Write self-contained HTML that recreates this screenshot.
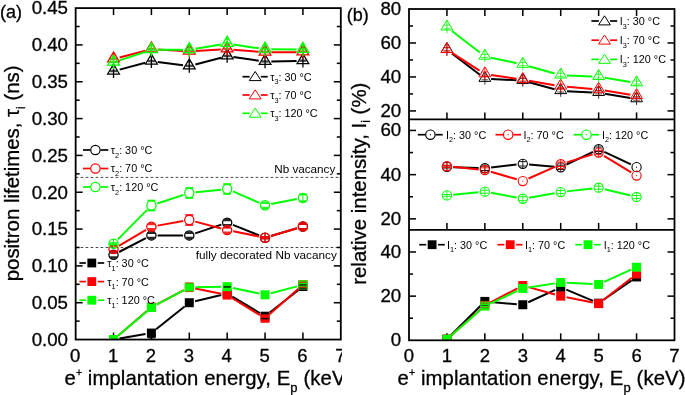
<!DOCTYPE html><html><head><meta charset="utf-8"><style>html,body{margin:0;padding:0;background:#fff;width:685px;height:395px;overflow:hidden;position:relative}text{font-family:"Liberation Sans", sans-serif;fill:#000;stroke:#000;stroke-width:0.3px}text.s{stroke-width:0}</style></head><body><svg width="685" height="395" viewBox="0 0 685 395" style="position:absolute;left:0;top:0;display:block"><rect x="0" y="0" width="685" height="395" fill="#fff"/><defs><clipPath id="cl"><rect x="75.65" y="8.1" width="265.15" height="331.45"/></clipPath><clipPath id="cr"><rect x="409" y="9" width="265.5" height="331.3"/></clipPath></defs><line x1="75.65" y1="177.4" x2="340.8" y2="177.4" stroke="#444" stroke-width="1" stroke-dasharray="2.6,2.4"/><line x1="75.65" y1="247.5" x2="340.8" y2="247.5" stroke="#444" stroke-width="1" stroke-dasharray="2.6,2.4"/><line x1="113.53" y1="339.55" x2="113.53" y2="332.55" stroke="#000" stroke-width="1.53" /><line x1="113.53" y1="8.1" x2="113.53" y2="15.1" stroke="#000" stroke-width="1.53" /><line x1="151.41" y1="339.55" x2="151.41" y2="332.55" stroke="#000" stroke-width="1.53" /><line x1="151.41" y1="8.1" x2="151.41" y2="15.1" stroke="#000" stroke-width="1.53" /><line x1="189.29" y1="339.55" x2="189.29" y2="332.55" stroke="#000" stroke-width="1.53" /><line x1="189.29" y1="8.1" x2="189.29" y2="15.1" stroke="#000" stroke-width="1.53" /><line x1="227.16" y1="339.55" x2="227.16" y2="332.55" stroke="#000" stroke-width="1.53" /><line x1="227.16" y1="8.1" x2="227.16" y2="15.1" stroke="#000" stroke-width="1.53" /><line x1="265.04" y1="339.55" x2="265.04" y2="332.55" stroke="#000" stroke-width="1.53" /><line x1="265.04" y1="8.1" x2="265.04" y2="15.1" stroke="#000" stroke-width="1.53" /><line x1="302.92" y1="339.55" x2="302.92" y2="332.55" stroke="#000" stroke-width="1.53" /><line x1="302.92" y1="8.1" x2="302.92" y2="15.1" stroke="#000" stroke-width="1.53" /><line x1="75.65" y1="302.72" x2="82.65" y2="302.72" stroke="#000" stroke-width="1.53" /><line x1="340.8" y1="302.72" x2="333.8" y2="302.72" stroke="#000" stroke-width="1.53" /><line x1="75.65" y1="265.89" x2="82.65" y2="265.89" stroke="#000" stroke-width="1.53" /><line x1="340.8" y1="265.89" x2="333.8" y2="265.89" stroke="#000" stroke-width="1.53" /><line x1="75.65" y1="229.07" x2="82.65" y2="229.07" stroke="#000" stroke-width="1.53" /><line x1="340.8" y1="229.07" x2="333.8" y2="229.07" stroke="#000" stroke-width="1.53" /><line x1="75.65" y1="192.24" x2="82.65" y2="192.24" stroke="#000" stroke-width="1.53" /><line x1="340.8" y1="192.24" x2="333.8" y2="192.24" stroke="#000" stroke-width="1.53" /><line x1="75.65" y1="155.41" x2="82.65" y2="155.41" stroke="#000" stroke-width="1.53" /><line x1="340.8" y1="155.41" x2="333.8" y2="155.41" stroke="#000" stroke-width="1.53" /><line x1="75.65" y1="118.58" x2="82.65" y2="118.58" stroke="#000" stroke-width="1.53" /><line x1="340.8" y1="118.58" x2="333.8" y2="118.58" stroke="#000" stroke-width="1.53" /><line x1="75.65" y1="81.76" x2="82.65" y2="81.76" stroke="#000" stroke-width="1.53" /><line x1="340.8" y1="81.76" x2="333.8" y2="81.76" stroke="#000" stroke-width="1.53" /><line x1="75.65" y1="44.93" x2="82.65" y2="44.93" stroke="#000" stroke-width="1.53" /><line x1="340.8" y1="44.93" x2="333.8" y2="44.93" stroke="#000" stroke-width="1.53" /><line x1="75.65" y1="321.14" x2="79.65" y2="321.14" stroke="#000" stroke-width="1.53" /><line x1="340.8" y1="321.14" x2="336.8" y2="321.14" stroke="#000" stroke-width="1.53" /><line x1="75.65" y1="284.31" x2="79.65" y2="284.31" stroke="#000" stroke-width="1.53" /><line x1="340.8" y1="284.31" x2="336.8" y2="284.31" stroke="#000" stroke-width="1.53" /><line x1="75.65" y1="247.48" x2="79.65" y2="247.48" stroke="#000" stroke-width="1.53" /><line x1="340.8" y1="247.48" x2="336.8" y2="247.48" stroke="#000" stroke-width="1.53" /><line x1="75.65" y1="210.65" x2="79.65" y2="210.65" stroke="#000" stroke-width="1.53" /><line x1="340.8" y1="210.65" x2="336.8" y2="210.65" stroke="#000" stroke-width="1.53" /><line x1="75.65" y1="173.83" x2="79.65" y2="173.83" stroke="#000" stroke-width="1.53" /><line x1="340.8" y1="173.83" x2="336.8" y2="173.83" stroke="#000" stroke-width="1.53" /><line x1="75.65" y1="137" x2="79.65" y2="137" stroke="#000" stroke-width="1.53" /><line x1="340.8" y1="137" x2="336.8" y2="137" stroke="#000" stroke-width="1.53" /><line x1="75.65" y1="100.17" x2="79.65" y2="100.17" stroke="#000" stroke-width="1.53" /><line x1="340.8" y1="100.17" x2="336.8" y2="100.17" stroke="#000" stroke-width="1.53" /><line x1="75.65" y1="63.34" x2="79.65" y2="63.34" stroke="#000" stroke-width="1.53" /><line x1="340.8" y1="63.34" x2="336.8" y2="63.34" stroke="#000" stroke-width="1.53" /><line x1="75.65" y1="26.51" x2="79.65" y2="26.51" stroke="#000" stroke-width="1.53" /><line x1="340.8" y1="26.51" x2="336.8" y2="26.51" stroke="#000" stroke-width="1.53" /><g clip-path="url(#cl)"><line x1="119.62" y1="69.62" x2="145.32" y2="62.83" stroke="#000000" stroke-width="2.0" stroke-linecap="butt"/><line x1="157.66" y1="62.02" x2="183.04" y2="65.28" stroke="#000000" stroke-width="2.0" stroke-linecap="butt"/><line x1="195.38" y1="64.48" x2="221.07" y2="57.73" stroke="#000000" stroke-width="2.0" stroke-linecap="butt"/><line x1="233.4" y1="57.04" x2="258.81" y2="60.75" stroke="#000000" stroke-width="2.0" stroke-linecap="butt"/><line x1="271.34" y1="61.54" x2="296.62" y2="61.04" stroke="#000000" stroke-width="2.0" stroke-linecap="butt"/><polygon points="113.53,64.03 119.43,74.03 107.63,74.03" fill="none" stroke="#000000" stroke-width="1.25" stroke-linejoin="miter"/><line x1="113.53" y1="64.23" x2="113.53" y2="77.93" stroke="#000000" stroke-width="1.3" /><rect x="109.93" y="69.83" width="7.2" height="2.4" fill="#000000" fill-opacity="0.7"/><polygon points="113.53,64.63 115.33,67.63 111.73,67.63" fill="#000000" fill-opacity="0.8"/><polygon points="151.41,54.02 157.31,64.02 145.51,64.02" fill="none" stroke="#000000" stroke-width="1.25" stroke-linejoin="miter"/><line x1="151.41" y1="54.22" x2="151.41" y2="67.92" stroke="#000000" stroke-width="1.3" /><rect x="147.81" y="59.82" width="7.2" height="2.4" fill="#000000" fill-opacity="0.7"/><polygon points="151.41,54.62 153.21,57.62 149.61,57.62" fill="#000000" fill-opacity="0.8"/><polygon points="189.29,58.88 195.19,68.88 183.39,68.88" fill="none" stroke="#000000" stroke-width="1.25" stroke-linejoin="miter"/><line x1="189.29" y1="59.08" x2="189.29" y2="72.78" stroke="#000000" stroke-width="1.3" /><rect x="185.69" y="64.68" width="7.2" height="2.4" fill="#000000" fill-opacity="0.7"/><polygon points="189.29,59.48 191.09,62.48 187.49,62.48" fill="#000000" fill-opacity="0.8"/><polygon points="227.16,48.93 233.06,58.93 221.26,58.93" fill="none" stroke="#000000" stroke-width="1.25" stroke-linejoin="miter"/><line x1="227.16" y1="49.13" x2="227.16" y2="62.83" stroke="#000000" stroke-width="1.3" /><rect x="223.56" y="54.73" width="7.2" height="2.4" fill="#000000" fill-opacity="0.7"/><polygon points="227.16,49.53 228.96,52.53 225.36,52.53" fill="#000000" fill-opacity="0.8"/><polygon points="265.04,54.46 270.94,64.46 259.14,64.46" fill="none" stroke="#000000" stroke-width="1.25" stroke-linejoin="miter"/><line x1="265.04" y1="54.66" x2="265.04" y2="68.36" stroke="#000000" stroke-width="1.3" /><rect x="261.44" y="60.26" width="7.2" height="2.4" fill="#000000" fill-opacity="0.7"/><polygon points="265.04,55.06 266.84,58.06 263.24,58.06" fill="#000000" fill-opacity="0.8"/><polygon points="302.92,53.72 308.82,63.72 297.02,63.72" fill="none" stroke="#000000" stroke-width="1.25" stroke-linejoin="miter"/><line x1="302.92" y1="53.92" x2="302.92" y2="67.62" stroke="#000000" stroke-width="1.3" /><rect x="299.32" y="59.52" width="7.2" height="2.4" fill="#000000" fill-opacity="0.7"/><polygon points="302.92,54.32 304.72,57.32 301.12,57.32" fill="#000000" fill-opacity="0.8"/><line x1="119.62" y1="57.48" x2="145.31" y2="50.74" stroke="#ff0000" stroke-width="2.0" stroke-linecap="butt"/><line x1="157.7" y1="49.5" x2="183" y2="50.98" stroke="#ff0000" stroke-width="2.0" stroke-linecap="butt"/><line x1="195.58" y1="50.98" x2="220.87" y2="49.5" stroke="#ff0000" stroke-width="2.0" stroke-linecap="butt"/><line x1="233.44" y1="49.67" x2="258.77" y2="51.84" stroke="#ff0000" stroke-width="2.0" stroke-linecap="butt"/><line x1="271.34" y1="52.33" x2="296.62" y2="52.13" stroke="#ff0000" stroke-width="2.0" stroke-linecap="butt"/><polygon points="113.53,51.88 119.43,61.88 107.63,61.88" fill="none" stroke="#ff0000" stroke-width="1.25" stroke-linejoin="miter"/><line x1="113.53" y1="52.08" x2="113.53" y2="65.78" stroke="#ff0000" stroke-width="1.3" /><rect x="109.93" y="57.68" width="7.2" height="2.4" fill="#ff0000" fill-opacity="0.7"/><polygon points="113.53,52.48 115.33,55.48 111.73,55.48" fill="#ff0000" fill-opacity="0.8"/><polygon points="151.41,41.94 157.31,51.94 145.51,51.94" fill="none" stroke="#ff0000" stroke-width="1.25" stroke-linejoin="miter"/><line x1="151.41" y1="42.14" x2="151.41" y2="55.84" stroke="#ff0000" stroke-width="1.3" /><rect x="147.81" y="47.74" width="7.2" height="2.4" fill="#ff0000" fill-opacity="0.7"/><polygon points="151.41,42.54 153.21,45.54 149.61,45.54" fill="#ff0000" fill-opacity="0.8"/><polygon points="189.29,44.15 195.19,54.15 183.39,54.15" fill="none" stroke="#ff0000" stroke-width="1.25" stroke-linejoin="miter"/><line x1="189.29" y1="44.35" x2="189.29" y2="58.05" stroke="#ff0000" stroke-width="1.3" /><rect x="185.69" y="49.95" width="7.2" height="2.4" fill="#ff0000" fill-opacity="0.7"/><polygon points="189.29,44.75 191.09,47.75 187.49,47.75" fill="#ff0000" fill-opacity="0.8"/><polygon points="227.16,41.94 233.06,51.94 221.26,51.94" fill="none" stroke="#ff0000" stroke-width="1.25" stroke-linejoin="miter"/><line x1="227.16" y1="42.14" x2="227.16" y2="55.84" stroke="#ff0000" stroke-width="1.3" /><rect x="223.56" y="47.74" width="7.2" height="2.4" fill="#ff0000" fill-opacity="0.7"/><polygon points="227.16,42.54 228.96,45.54 225.36,45.54" fill="#ff0000" fill-opacity="0.8"/><polygon points="265.04,45.18 270.94,55.18 259.14,55.18" fill="none" stroke="#ff0000" stroke-width="1.25" stroke-linejoin="miter"/><line x1="265.04" y1="45.38" x2="265.04" y2="59.08" stroke="#ff0000" stroke-width="1.3" /><rect x="261.44" y="50.98" width="7.2" height="2.4" fill="#ff0000" fill-opacity="0.7"/><polygon points="265.04,45.78 266.84,48.78 263.24,48.78" fill="#ff0000" fill-opacity="0.8"/><polygon points="302.92,44.88 308.82,54.88 297.02,54.88" fill="none" stroke="#ff0000" stroke-width="1.25" stroke-linejoin="miter"/><line x1="302.92" y1="45.08" x2="302.92" y2="58.78" stroke="#ff0000" stroke-width="1.3" /><rect x="299.32" y="50.68" width="7.2" height="2.4" fill="#ff0000" fill-opacity="0.7"/><polygon points="302.92,45.48 304.72,48.48 301.12,48.48" fill="#ff0000" fill-opacity="0.8"/><line x1="119.51" y1="60.42" x2="145.43" y2="51.85" stroke="#00ff00" stroke-width="2.0" stroke-linecap="butt"/><line x1="157.71" y1="49.87" x2="182.99" y2="49.87" stroke="#00ff00" stroke-width="2.0" stroke-linecap="butt"/><line x1="195.5" y1="48.82" x2="220.95" y2="44.52" stroke="#00ff00" stroke-width="2.0" stroke-linecap="butt"/><line x1="233.39" y1="44.42" x2="258.82" y2="48.33" stroke="#00ff00" stroke-width="2.0" stroke-linecap="butt"/><line x1="271.34" y1="49.32" x2="296.62" y2="49.47" stroke="#00ff00" stroke-width="2.0" stroke-linecap="butt"/><polygon points="113.53,55.2 119.43,65.2 107.63,65.2" fill="none" stroke="#00ff00" stroke-width="1.25" stroke-linejoin="miter"/><line x1="113.53" y1="55.4" x2="113.53" y2="69.1" stroke="#00ff00" stroke-width="1.3" /><rect x="109.93" y="61" width="7.2" height="2.4" fill="#00ff00" fill-opacity="0.7"/><polygon points="113.53,55.8 115.33,58.8 111.73,58.8" fill="#00ff00" fill-opacity="0.8"/><polygon points="151.41,42.67 157.31,52.67 145.51,52.67" fill="none" stroke="#00ff00" stroke-width="1.25" stroke-linejoin="miter"/><line x1="151.41" y1="42.87" x2="151.41" y2="56.57" stroke="#00ff00" stroke-width="1.3" /><rect x="147.81" y="48.47" width="7.2" height="2.4" fill="#00ff00" fill-opacity="0.7"/><polygon points="151.41,43.27 153.21,46.27 149.61,46.27" fill="#00ff00" fill-opacity="0.8"/><polygon points="189.29,42.67 195.19,52.67 183.39,52.67" fill="none" stroke="#00ff00" stroke-width="1.25" stroke-linejoin="miter"/><line x1="189.29" y1="42.87" x2="189.29" y2="56.57" stroke="#00ff00" stroke-width="1.3" /><rect x="185.69" y="48.47" width="7.2" height="2.4" fill="#00ff00" fill-opacity="0.7"/><polygon points="189.29,43.27 191.09,46.27 187.49,46.27" fill="#00ff00" fill-opacity="0.8"/><polygon points="227.16,36.27 233.06,46.27 221.26,46.27" fill="none" stroke="#00ff00" stroke-width="1.25" stroke-linejoin="miter"/><line x1="227.16" y1="36.47" x2="227.16" y2="50.17" stroke="#00ff00" stroke-width="1.3" /><rect x="223.56" y="42.07" width="7.2" height="2.4" fill="#00ff00" fill-opacity="0.7"/><polygon points="227.16,36.87 228.96,39.87 225.36,39.87" fill="#00ff00" fill-opacity="0.8"/><polygon points="265.04,42.08 270.94,52.08 259.14,52.08" fill="none" stroke="#00ff00" stroke-width="1.25" stroke-linejoin="miter"/><line x1="265.04" y1="42.28" x2="265.04" y2="55.98" stroke="#00ff00" stroke-width="1.3" /><rect x="261.44" y="47.88" width="7.2" height="2.4" fill="#00ff00" fill-opacity="0.7"/><polygon points="265.04,42.68 266.84,45.68 263.24,45.68" fill="#00ff00" fill-opacity="0.8"/><polygon points="302.92,42.31 308.82,52.31 297.02,52.31" fill="none" stroke="#00ff00" stroke-width="1.25" stroke-linejoin="miter"/><line x1="302.92" y1="42.51" x2="302.92" y2="56.21" stroke="#00ff00" stroke-width="1.3" /><rect x="299.32" y="48.11" width="7.2" height="2.4" fill="#00ff00" fill-opacity="0.7"/><polygon points="302.92,42.91 304.72,45.91 301.12,45.91" fill="#00ff00" fill-opacity="0.8"/><line x1="119.04" y1="252.01" x2="145.89" y2="238.23" stroke="#000000" stroke-width="2.0" stroke-linecap="butt"/><line x1="157.61" y1="235.4" x2="183.09" y2="235.4" stroke="#000000" stroke-width="2.0" stroke-linecap="butt"/><line x1="195.16" y1="233.42" x2="221.29" y2="224.64" stroke="#000000" stroke-width="2.0" stroke-linecap="butt"/><line x1="232.93" y1="224.94" x2="259.28" y2="235.4" stroke="#000000" stroke-width="2.0" stroke-linecap="butt"/><line x1="270.99" y1="235.93" x2="296.98" y2="228.25" stroke="#000000" stroke-width="2.0" stroke-linecap="butt"/><circle cx="113.53" cy="254.85" r="4.6" fill="none" stroke="#000000" stroke-width="1.3"/><polygon points="109.43,253.45 117.63,253.45 116.03,250.95 111.03,250.95" fill="#000000" fill-opacity="0.85"/><polygon points="109.43,256.25 117.63,256.25 116.03,258.75 111.03,258.75" fill="#000000" fill-opacity="0.85"/><circle cx="151.41" cy="235.4" r="4.6" fill="none" stroke="#000000" stroke-width="1.3"/><polygon points="147.31,234 155.51,234 153.91,231.5 148.91,231.5" fill="#000000" fill-opacity="0.85"/><polygon points="147.31,236.8 155.51,236.8 153.91,239.3 148.91,239.3" fill="#000000" fill-opacity="0.85"/><circle cx="189.29" cy="235.4" r="4.6" fill="none" stroke="#000000" stroke-width="1.3"/><polygon points="185.19,234 193.39,234 191.79,231.5 186.79,231.5" fill="#000000" fill-opacity="0.85"/><polygon points="185.19,236.8 193.39,236.8 191.79,239.3 186.79,239.3" fill="#000000" fill-opacity="0.85"/><circle cx="227.16" cy="222.66" r="4.6" fill="none" stroke="#000000" stroke-width="1.3"/><polygon points="223.06,221.26 231.26,221.26 229.66,218.76 224.66,218.76" fill="#000000" fill-opacity="0.85"/><polygon points="223.06,224.06 231.26,224.06 229.66,226.56 224.66,226.56" fill="#000000" fill-opacity="0.85"/><circle cx="265.04" cy="237.68" r="4.6" fill="none" stroke="#000000" stroke-width="1.3"/><line x1="265.04" y1="233.08" x2="265.04" y2="242.28" stroke="#000000" stroke-width="1.0" /><rect x="261.24" y="236.08" width="7.6" height="1.6" fill="#000000"/><rect x="261.24" y="237.68" width="7.6" height="1.6" fill="#000000"/><circle cx="302.92" cy="226.49" r="4.6" fill="none" stroke="#000000" stroke-width="1.3"/><polygon points="298.82,225.09 307.02,225.09 305.42,222.59 300.42,222.59" fill="#000000" fill-opacity="0.85"/><polygon points="298.82,227.89 307.02,227.89 305.42,230.39 300.42,230.39" fill="#000000" fill-opacity="0.85"/><line x1="118.87" y1="245.81" x2="146.06" y2="229.85" stroke="#ff0000" stroke-width="2.0" stroke-linecap="butt"/><line x1="157.51" y1="225.63" x2="183.18" y2="221.09" stroke="#ff0000" stroke-width="2.0" stroke-linecap="butt"/><line x1="195.28" y1="221.6" x2="221.17" y2="228.5" stroke="#ff0000" stroke-width="2.0" stroke-linecap="butt"/><line x1="233.24" y1="231.32" x2="258.96" y2="236.47" stroke="#ff0000" stroke-width="2.0" stroke-linecap="butt"/><line x1="270.99" y1="235.93" x2="296.98" y2="228.25" stroke="#ff0000" stroke-width="2.0" stroke-linecap="butt"/><circle cx="113.53" cy="248.95" r="4.6" fill="none" stroke="#ff0000" stroke-width="1.3"/><polygon points="109.43,247.55 117.63,247.55 116.03,245.05 111.03,245.05" fill="#ff0000" fill-opacity="0.85"/><polygon points="109.43,250.35 117.63,250.35 116.03,252.85 111.03,252.85" fill="#ff0000" fill-opacity="0.85"/><circle cx="151.41" cy="226.71" r="4.6" fill="none" stroke="#ff0000" stroke-width="1.3"/><polygon points="147.31,225.31 155.51,225.31 153.91,222.81 148.91,222.81" fill="#ff0000" fill-opacity="0.85"/><polygon points="147.31,228.11 155.51,228.11 153.91,230.61 148.91,230.61" fill="#ff0000" fill-opacity="0.85"/><circle cx="189.29" cy="220.01" r="4.6" fill="#fff" stroke="#ff0000" stroke-width="1.3"/><rect x="185.29" y="214.21" width="8" height="1.6" fill="#ff0000"/><rect x="185.29" y="224.21" width="8" height="1.6" fill="#ff0000"/><circle cx="227.16" cy="230.1" r="4.6" fill="none" stroke="#ff0000" stroke-width="1.3"/><polygon points="223.06,228.7 231.26,228.7 229.66,226.2 224.66,226.2" fill="#ff0000" fill-opacity="0.85"/><polygon points="223.06,231.5 231.26,231.5 229.66,234 224.66,234" fill="#ff0000" fill-opacity="0.85"/><circle cx="265.04" cy="237.68" r="4.6" fill="none" stroke="#ff0000" stroke-width="1.3"/><line x1="265.04" y1="233.08" x2="265.04" y2="242.28" stroke="#ff0000" stroke-width="1.0" /><rect x="261.24" y="236.08" width="7.6" height="1.6" fill="#ff0000"/><rect x="261.24" y="237.68" width="7.6" height="1.6" fill="#ff0000"/><circle cx="302.92" cy="226.49" r="4.6" fill="none" stroke="#ff0000" stroke-width="1.3"/><polygon points="298.82,225.09 307.02,225.09 305.42,222.59 300.42,222.59" fill="#ff0000" fill-opacity="0.85"/><polygon points="298.82,227.89 307.02,227.89 305.42,230.39 300.42,230.39" fill="#ff0000" fill-opacity="0.85"/><line x1="117.89" y1="239.39" x2="147.05" y2="209.91" stroke="#00ff00" stroke-width="2.0" stroke-linecap="butt"/><line x1="157.29" y1="203.55" x2="183.4" y2="194.92" stroke="#00ff00" stroke-width="2.0" stroke-linecap="butt"/><line x1="195.45" y1="192.33" x2="221" y2="189.65" stroke="#00ff00" stroke-width="2.0" stroke-linecap="butt"/><line x1="232.86" y1="191.45" x2="259.35" y2="202.83" stroke="#00ff00" stroke-width="2.0" stroke-linecap="butt"/><line x1="271.13" y1="204.09" x2="296.84" y2="199.09" stroke="#00ff00" stroke-width="2.0" stroke-linecap="butt"/><circle cx="113.53" cy="243.8" r="4.6" fill="none" stroke="#00ff00" stroke-width="1.3"/><line x1="113.53" y1="239.2" x2="113.53" y2="248.4" stroke="#00ff00" stroke-width="1.0" /><rect x="109.73" y="242.2" width="7.6" height="1.6" fill="#00ff00"/><rect x="109.73" y="243.8" width="7.6" height="1.6" fill="#00ff00"/><circle cx="151.41" cy="205.5" r="4.6" fill="#fff" stroke="#00ff00" stroke-width="1.3"/><rect x="147.41" y="199.7" width="8" height="1.6" fill="#00ff00"/><rect x="147.41" y="209.7" width="8" height="1.6" fill="#00ff00"/><circle cx="189.29" cy="192.98" r="4.6" fill="#fff" stroke="#00ff00" stroke-width="1.3"/><rect x="185.29" y="187.18" width="8" height="1.6" fill="#00ff00"/><rect x="185.29" y="197.18" width="8" height="1.6" fill="#00ff00"/><circle cx="227.16" cy="189" r="4.6" fill="#fff" stroke="#00ff00" stroke-width="1.3"/><rect x="223.16" y="183.2" width="8" height="1.6" fill="#00ff00"/><rect x="223.16" y="193.2" width="8" height="1.6" fill="#00ff00"/><circle cx="265.04" cy="205.28" r="4.6" fill="none" stroke="#00ff00" stroke-width="1.3"/><polygon points="260.94,203.88 269.14,203.88 267.54,201.38 262.54,201.38" fill="#00ff00" fill-opacity="0.85"/><polygon points="260.94,206.68 269.14,206.68 267.54,209.18 262.54,209.18" fill="#00ff00" fill-opacity="0.85"/><circle cx="302.92" cy="197.91" r="4.6" fill="none" stroke="#00ff00" stroke-width="1.3"/><line x1="302.92" y1="193.31" x2="302.92" y2="202.51" stroke="#00ff00" stroke-width="1.0" /><rect x="299.12" y="193.61" width="7.6" height="1.8" fill="#00ff00"/><rect x="299.12" y="200.41" width="7.6" height="1.8" fill="#00ff00"/><line x1="119.44" y1="338.54" x2="145.49" y2="334.08" stroke="#000000" stroke-width="2.0" stroke-linecap="butt"/><line x1="156.09" y1="329.32" x2="184.6" y2="306.47" stroke="#000000" stroke-width="2.0" stroke-linecap="butt"/><line x1="195.12" y1="301.31" x2="221.33" y2="294.93" stroke="#000000" stroke-width="2.0" stroke-linecap="butt"/><line x1="232.31" y1="296.6" x2="259.9" y2="313.12" stroke="#000000" stroke-width="2.0" stroke-linecap="butt"/><line x1="269.77" y1="312.5" x2="298.2" y2="290.22" stroke="#000000" stroke-width="2.0" stroke-linecap="butt"/><rect x="109.03" y="335.05" width="9" height="9" fill="#000000"/><rect x="146.91" y="328.57" width="9" height="9" fill="#000000"/><rect x="184.79" y="298.22" width="9" height="9" fill="#000000"/><rect x="222.66" y="289.02" width="9" height="9" fill="#000000"/><rect x="260.54" y="311.7" width="9" height="9" fill="#000000"/><rect x="298.42" y="282.02" width="9" height="9" fill="#000000"/><line x1="118.09" y1="335.65" x2="146.85" y2="311.04" stroke="#ff0000" stroke-width="2.0" stroke-linecap="butt"/><line x1="156.72" y1="304.35" x2="183.97" y2="290.04" stroke="#ff0000" stroke-width="2.0" stroke-linecap="butt"/><line x1="195.16" y1="288.47" x2="221.29" y2="293.85" stroke="#ff0000" stroke-width="2.0" stroke-linecap="butt"/><line x1="232.28" y1="298.2" x2="259.93" y2="315.13" stroke="#ff0000" stroke-width="2.0" stroke-linecap="butt"/><line x1="269.54" y1="314.29" x2="298.43" y2="288.73" stroke="#ff0000" stroke-width="2.0" stroke-linecap="butt"/><rect x="109.03" y="335.05" width="9" height="9" fill="#ff0000"/><rect x="146.91" y="302.64" width="9" height="9" fill="#ff0000"/><rect x="184.79" y="282.75" width="9" height="9" fill="#ff0000"/><rect x="222.66" y="290.56" width="9" height="9" fill="#ff0000"/><rect x="260.54" y="313.76" width="9" height="9" fill="#ff0000"/><rect x="298.42" y="280.25" width="9" height="9" fill="#ff0000"/><line x1="118.11" y1="335.68" x2="146.83" y2="311.38" stroke="#00ff00" stroke-width="2.0" stroke-linecap="butt"/><line x1="156.7" y1="304.68" x2="183.99" y2="290.08" stroke="#00ff00" stroke-width="2.0" stroke-linecap="butt"/><line x1="195.28" y1="287.16" x2="221.17" y2="286.76" stroke="#00ff00" stroke-width="2.0" stroke-linecap="butt"/><line x1="233.03" y1="287.93" x2="259.18" y2="293.58" stroke="#00ff00" stroke-width="2.0" stroke-linecap="butt"/><line x1="270.84" y1="293.31" x2="297.12" y2="286.36" stroke="#00ff00" stroke-width="2.0" stroke-linecap="butt"/><rect x="109.03" y="335.05" width="9" height="9" fill="#00ff00"/><rect x="146.91" y="303.01" width="9" height="9" fill="#00ff00"/><rect x="184.79" y="282.75" width="9" height="9" fill="#00ff00"/><rect x="222.66" y="282.17" width="9" height="9" fill="#00ff00"/><rect x="260.54" y="290.34" width="9" height="9" fill="#00ff00"/><rect x="298.42" y="280.32" width="9" height="9" fill="#00ff00"/><g fill="#000000" fill-opacity="0.85"><rect x="147.71" y="336.92" width="7.4" height="1.5"/></g><g fill="#000000" fill-opacity="0.9"><rect x="223.46" y="286.17" width="7.4" height="1.5"/></g><g fill="#000000" fill-opacity="0.85"><rect x="261.34" y="312.95" width="7.4" height="1.5"/><rect x="261.34" y="317.95" width="7.4" height="1.5"/></g><g fill="#000000" fill-opacity="0.85"><rect x="299.22" y="284.17" width="7.4" height="1.5"/><rect x="299.22" y="287.37" width="7.4" height="1.5"/></g><g fill="#ff0000" fill-opacity="0.4"><rect x="185.59" y="282.2" width="7.4" height="1.5"/><rect x="185.59" y="290.8" width="7.4" height="1.5"/></g><g fill="#ff0000" fill-opacity="0.7"><rect x="299.22" y="281.55" width="7.4" height="1.5"/><rect x="299.22" y="286.45" width="7.4" height="1.5"/></g></g><rect x="75.65" y="8.1" width="265.15" height="331.45" fill="none" stroke="#000" stroke-width="1.8"/><line x1="446.93" y1="119.4" x2="446.93" y2="112.4" stroke="#000" stroke-width="1.53" /><line x1="446.93" y1="9" x2="446.93" y2="16" stroke="#000" stroke-width="1.53" /><line x1="484.86" y1="119.4" x2="484.86" y2="112.4" stroke="#000" stroke-width="1.53" /><line x1="484.86" y1="9" x2="484.86" y2="16" stroke="#000" stroke-width="1.53" /><line x1="522.79" y1="119.4" x2="522.79" y2="112.4" stroke="#000" stroke-width="1.53" /><line x1="522.79" y1="9" x2="522.79" y2="16" stroke="#000" stroke-width="1.53" /><line x1="560.71" y1="119.4" x2="560.71" y2="112.4" stroke="#000" stroke-width="1.53" /><line x1="560.71" y1="9" x2="560.71" y2="16" stroke="#000" stroke-width="1.53" /><line x1="598.64" y1="119.4" x2="598.64" y2="112.4" stroke="#000" stroke-width="1.53" /><line x1="598.64" y1="9" x2="598.64" y2="16" stroke="#000" stroke-width="1.53" /><line x1="636.57" y1="119.4" x2="636.57" y2="112.4" stroke="#000" stroke-width="1.53" /><line x1="636.57" y1="9" x2="636.57" y2="16" stroke="#000" stroke-width="1.53" /><line x1="409" y1="110.91" x2="416" y2="110.91" stroke="#000" stroke-width="1.53" /><line x1="674.5" y1="110.91" x2="667.5" y2="110.91" stroke="#000" stroke-width="1.53" /><line x1="409" y1="76.94" x2="416" y2="76.94" stroke="#000" stroke-width="1.53" /><line x1="674.5" y1="76.94" x2="667.5" y2="76.94" stroke="#000" stroke-width="1.53" /><line x1="409" y1="42.97" x2="416" y2="42.97" stroke="#000" stroke-width="1.53" /><line x1="674.5" y1="42.97" x2="667.5" y2="42.97" stroke="#000" stroke-width="1.53" /><line x1="409" y1="93.92" x2="413" y2="93.92" stroke="#000" stroke-width="1.53" /><line x1="674.5" y1="93.92" x2="670.5" y2="93.92" stroke="#000" stroke-width="1.53" /><line x1="409" y1="59.95" x2="413" y2="59.95" stroke="#000" stroke-width="1.53" /><line x1="674.5" y1="59.95" x2="670.5" y2="59.95" stroke="#000" stroke-width="1.53" /><line x1="409" y1="25.98" x2="413" y2="25.98" stroke="#000" stroke-width="1.53" /><line x1="674.5" y1="25.98" x2="670.5" y2="25.98" stroke="#000" stroke-width="1.53" /><line x1="446.93" y1="229.9" x2="446.93" y2="222.9" stroke="#000" stroke-width="1.53" /><line x1="484.86" y1="229.9" x2="484.86" y2="222.9" stroke="#000" stroke-width="1.53" /><line x1="522.79" y1="229.9" x2="522.79" y2="222.9" stroke="#000" stroke-width="1.53" /><line x1="560.71" y1="229.9" x2="560.71" y2="222.9" stroke="#000" stroke-width="1.53" /><line x1="598.64" y1="229.9" x2="598.64" y2="222.9" stroke="#000" stroke-width="1.53" /><line x1="636.57" y1="229.9" x2="636.57" y2="222.9" stroke="#000" stroke-width="1.53" /><line x1="409" y1="218.85" x2="416" y2="218.85" stroke="#000" stroke-width="1.53" /><line x1="674.5" y1="218.85" x2="667.5" y2="218.85" stroke="#000" stroke-width="1.53" /><line x1="409" y1="174.65" x2="416" y2="174.65" stroke="#000" stroke-width="1.53" /><line x1="674.5" y1="174.65" x2="667.5" y2="174.65" stroke="#000" stroke-width="1.53" /><line x1="409" y1="130.45" x2="416" y2="130.45" stroke="#000" stroke-width="1.53" /><line x1="674.5" y1="130.45" x2="667.5" y2="130.45" stroke="#000" stroke-width="1.53" /><line x1="409" y1="196.75" x2="413" y2="196.75" stroke="#000" stroke-width="1.53" /><line x1="674.5" y1="196.75" x2="670.5" y2="196.75" stroke="#000" stroke-width="1.53" /><line x1="409" y1="152.55" x2="413" y2="152.55" stroke="#000" stroke-width="1.53" /><line x1="674.5" y1="152.55" x2="670.5" y2="152.55" stroke="#000" stroke-width="1.53" /><line x1="446.93" y1="340.3" x2="446.93" y2="333.3" stroke="#000" stroke-width="1.53" /><line x1="484.86" y1="340.3" x2="484.86" y2="333.3" stroke="#000" stroke-width="1.53" /><line x1="522.79" y1="340.3" x2="522.79" y2="333.3" stroke="#000" stroke-width="1.53" /><line x1="560.71" y1="340.3" x2="560.71" y2="333.3" stroke="#000" stroke-width="1.53" /><line x1="598.64" y1="340.3" x2="598.64" y2="333.3" stroke="#000" stroke-width="1.53" /><line x1="636.57" y1="340.3" x2="636.57" y2="333.3" stroke="#000" stroke-width="1.53" /><line x1="409" y1="296.14" x2="416" y2="296.14" stroke="#000" stroke-width="1.53" /><line x1="674.5" y1="296.14" x2="667.5" y2="296.14" stroke="#000" stroke-width="1.53" /><line x1="409" y1="251.98" x2="416" y2="251.98" stroke="#000" stroke-width="1.53" /><line x1="674.5" y1="251.98" x2="667.5" y2="251.98" stroke="#000" stroke-width="1.53" /><line x1="409" y1="318.22" x2="413" y2="318.22" stroke="#000" stroke-width="1.53" /><line x1="674.5" y1="318.22" x2="670.5" y2="318.22" stroke="#000" stroke-width="1.53" /><line x1="409" y1="274.06" x2="413" y2="274.06" stroke="#000" stroke-width="1.53" /><line x1="674.5" y1="274.06" x2="670.5" y2="274.06" stroke="#000" stroke-width="1.53" /><g clip-path="url(#cr)"><line x1="451.94" y1="53.54" x2="479.84" y2="74.78" stroke="#000000" stroke-width="2.0" stroke-linecap="butt"/><line x1="491.15" y1="78.94" x2="516.49" y2="80.3" stroke="#000000" stroke-width="2.0" stroke-linecap="butt"/><line x1="528.87" y1="82.27" x2="554.63" y2="89.19" stroke="#000000" stroke-width="2.0" stroke-linecap="butt"/><line x1="567.01" y1="91.14" x2="592.35" y2="92.39" stroke="#000000" stroke-width="2.0" stroke-linecap="butt"/><line x1="604.86" y1="93.73" x2="630.36" y2="97.95" stroke="#000000" stroke-width="2.0" stroke-linecap="butt"/><polygon points="446.93,42.52 452.83,52.52 441.03,52.52" fill="none" stroke="#000000" stroke-width="1.0" stroke-linejoin="miter"/><line x1="446.93" y1="43.72" x2="446.93" y2="55.72" stroke="#000000" stroke-width="0.8" /><line x1="443.93" y1="47.72" x2="449.93" y2="47.72" stroke="#000000" stroke-width="0.7" /><line x1="443.43" y1="50.92" x2="450.43" y2="50.92" stroke="#000000" stroke-width="0.7" /><polygon points="484.86,71.4 490.76,81.4 478.96,81.4" fill="none" stroke="#000000" stroke-width="1.0" stroke-linejoin="miter"/><line x1="484.86" y1="72.6" x2="484.86" y2="84.6" stroke="#000000" stroke-width="0.8" /><line x1="481.86" y1="76.6" x2="487.86" y2="76.6" stroke="#000000" stroke-width="0.7" /><line x1="481.36" y1="79.8" x2="488.36" y2="79.8" stroke="#000000" stroke-width="0.7" /><polygon points="522.79,73.44 528.69,83.44 516.89,83.44" fill="none" stroke="#000000" stroke-width="1.0" stroke-linejoin="miter"/><line x1="522.79" y1="74.64" x2="522.79" y2="86.64" stroke="#000000" stroke-width="0.8" /><line x1="519.79" y1="78.64" x2="525.79" y2="78.64" stroke="#000000" stroke-width="0.7" /><line x1="519.29" y1="81.84" x2="526.29" y2="81.84" stroke="#000000" stroke-width="0.7" /><polygon points="560.71,83.63 566.61,93.63 554.81,93.63" fill="none" stroke="#000000" stroke-width="1.0" stroke-linejoin="miter"/><line x1="560.71" y1="84.83" x2="560.71" y2="96.83" stroke="#000000" stroke-width="0.8" /><line x1="557.71" y1="88.83" x2="563.71" y2="88.83" stroke="#000000" stroke-width="0.7" /><line x1="557.21" y1="92.03" x2="564.21" y2="92.03" stroke="#000000" stroke-width="0.7" /><polygon points="598.64,85.5 604.54,95.5 592.74,95.5" fill="none" stroke="#000000" stroke-width="1.0" stroke-linejoin="miter"/><line x1="598.64" y1="86.7" x2="598.64" y2="98.7" stroke="#000000" stroke-width="0.8" /><line x1="595.64" y1="90.7" x2="601.64" y2="90.7" stroke="#000000" stroke-width="0.7" /><line x1="595.14" y1="93.9" x2="602.14" y2="93.9" stroke="#000000" stroke-width="0.7" /><polygon points="636.57,91.78 642.47,101.78 630.67,101.78" fill="none" stroke="#000000" stroke-width="1.0" stroke-linejoin="miter"/><line x1="636.57" y1="92.98" x2="636.57" y2="104.98" stroke="#000000" stroke-width="0.8" /><line x1="633.57" y1="96.98" x2="639.57" y2="96.98" stroke="#000000" stroke-width="0.7" /><line x1="633.07" y1="100.18" x2="640.07" y2="100.18" stroke="#000000" stroke-width="0.7" /><line x1="452.23" y1="53.12" x2="479.55" y2="70.62" stroke="#ff0000" stroke-width="2.0" stroke-linecap="butt"/><line x1="491.09" y1="74.96" x2="516.56" y2="78.84" stroke="#ff0000" stroke-width="2.0" stroke-linecap="butt"/><line x1="529" y1="80.84" x2="554.5" y2="85.18" stroke="#ff0000" stroke-width="2.0" stroke-linecap="butt"/><line x1="566.99" y1="86.78" x2="592.37" y2="88.93" stroke="#ff0000" stroke-width="2.0" stroke-linecap="butt"/><line x1="604.86" y1="90.5" x2="630.36" y2="94.72" stroke="#ff0000" stroke-width="2.0" stroke-linecap="butt"/><polygon points="446.93,42.52 452.83,52.52 441.03,52.52" fill="none" stroke="#ff0000" stroke-width="1.0" stroke-linejoin="miter"/><line x1="446.93" y1="43.72" x2="446.93" y2="55.72" stroke="#ff0000" stroke-width="0.8" /><line x1="443.93" y1="47.72" x2="449.93" y2="47.72" stroke="#ff0000" stroke-width="0.7" /><line x1="443.43" y1="50.92" x2="450.43" y2="50.92" stroke="#ff0000" stroke-width="0.7" /><polygon points="484.86,66.81 490.76,76.81 478.96,76.81" fill="none" stroke="#ff0000" stroke-width="1.0" stroke-linejoin="miter"/><line x1="484.86" y1="68.01" x2="484.86" y2="80.01" stroke="#ff0000" stroke-width="0.8" /><line x1="481.86" y1="72.01" x2="487.86" y2="72.01" stroke="#ff0000" stroke-width="0.7" /><line x1="481.36" y1="75.21" x2="488.36" y2="75.21" stroke="#ff0000" stroke-width="0.7" /><polygon points="522.79,72.59 528.69,82.59 516.89,82.59" fill="none" stroke="#ff0000" stroke-width="1.0" stroke-linejoin="miter"/><line x1="522.79" y1="73.79" x2="522.79" y2="85.79" stroke="#ff0000" stroke-width="0.8" /><line x1="519.79" y1="77.79" x2="525.79" y2="77.79" stroke="#ff0000" stroke-width="0.7" /><line x1="519.29" y1="80.99" x2="526.29" y2="80.99" stroke="#ff0000" stroke-width="0.7" /><polygon points="560.71,79.04 566.61,89.04 554.81,89.04" fill="none" stroke="#ff0000" stroke-width="1.0" stroke-linejoin="miter"/><line x1="560.71" y1="80.24" x2="560.71" y2="92.24" stroke="#ff0000" stroke-width="0.8" /><line x1="557.71" y1="84.24" x2="563.71" y2="84.24" stroke="#ff0000" stroke-width="0.7" /><line x1="557.21" y1="87.44" x2="564.21" y2="87.44" stroke="#ff0000" stroke-width="0.7" /><polygon points="598.64,82.27 604.54,92.27 592.74,92.27" fill="none" stroke="#ff0000" stroke-width="1.0" stroke-linejoin="miter"/><line x1="598.64" y1="83.47" x2="598.64" y2="95.47" stroke="#ff0000" stroke-width="0.8" /><line x1="595.64" y1="87.47" x2="601.64" y2="87.47" stroke="#ff0000" stroke-width="0.7" /><line x1="595.14" y1="90.67" x2="602.14" y2="90.67" stroke="#ff0000" stroke-width="0.7" /><polygon points="636.57,88.55 642.47,98.55 630.67,98.55" fill="none" stroke="#ff0000" stroke-width="1.0" stroke-linejoin="miter"/><line x1="636.57" y1="89.75" x2="636.57" y2="101.75" stroke="#ff0000" stroke-width="0.8" /><line x1="633.57" y1="93.75" x2="639.57" y2="93.75" stroke="#ff0000" stroke-width="0.7" /><line x1="633.07" y1="96.95" x2="640.07" y2="96.95" stroke="#ff0000" stroke-width="0.7" /><line x1="451.92" y1="30.98" x2="479.87" y2="52.5" stroke="#00ff00" stroke-width="2.0" stroke-linecap="butt"/><line x1="491.02" y1="57.67" x2="516.63" y2="63.18" stroke="#00ff00" stroke-width="2.0" stroke-linecap="butt"/><line x1="528.85" y1="66.21" x2="554.65" y2="73.49" stroke="#00ff00" stroke-width="2.0" stroke-linecap="butt"/><line x1="567.01" y1="75.46" x2="592.35" y2="76.48" stroke="#00ff00" stroke-width="2.0" stroke-linecap="butt"/><line x1="604.86" y1="77.76" x2="630.36" y2="81.98" stroke="#00ff00" stroke-width="2.0" stroke-linecap="butt"/><polygon points="446.93,19.94 452.83,29.94 441.03,29.94" fill="none" stroke="#00ff00" stroke-width="1.0" stroke-linejoin="miter"/><line x1="446.93" y1="21.14" x2="446.93" y2="33.14" stroke="#00ff00" stroke-width="0.8" /><line x1="443.93" y1="25.14" x2="449.93" y2="25.14" stroke="#00ff00" stroke-width="0.7" /><line x1="443.43" y1="28.34" x2="450.43" y2="28.34" stroke="#00ff00" stroke-width="0.7" /><polygon points="484.86,49.15 490.76,59.15 478.96,59.15" fill="none" stroke="#00ff00" stroke-width="1.0" stroke-linejoin="miter"/><line x1="484.86" y1="50.35" x2="484.86" y2="62.35" stroke="#00ff00" stroke-width="0.8" /><line x1="481.86" y1="54.35" x2="487.86" y2="54.35" stroke="#00ff00" stroke-width="0.7" /><line x1="481.36" y1="57.55" x2="488.36" y2="57.55" stroke="#00ff00" stroke-width="0.7" /><polygon points="522.79,57.3 528.69,67.3 516.89,67.3" fill="none" stroke="#00ff00" stroke-width="1.0" stroke-linejoin="miter"/><line x1="522.79" y1="58.5" x2="522.79" y2="70.5" stroke="#00ff00" stroke-width="0.8" /><line x1="519.79" y1="62.5" x2="525.79" y2="62.5" stroke="#00ff00" stroke-width="0.7" /><line x1="519.29" y1="65.7" x2="526.29" y2="65.7" stroke="#00ff00" stroke-width="0.7" /><polygon points="560.71,68 566.61,78 554.81,78" fill="none" stroke="#00ff00" stroke-width="1.0" stroke-linejoin="miter"/><line x1="560.71" y1="69.2" x2="560.71" y2="81.2" stroke="#00ff00" stroke-width="0.8" /><line x1="557.71" y1="73.2" x2="563.71" y2="73.2" stroke="#00ff00" stroke-width="0.7" /><line x1="557.21" y1="76.4" x2="564.21" y2="76.4" stroke="#00ff00" stroke-width="0.7" /><polygon points="598.64,69.53 604.54,79.53 592.74,79.53" fill="none" stroke="#00ff00" stroke-width="1.0" stroke-linejoin="miter"/><line x1="598.64" y1="70.73" x2="598.64" y2="82.73" stroke="#00ff00" stroke-width="0.8" /><line x1="595.64" y1="74.73" x2="601.64" y2="74.73" stroke="#00ff00" stroke-width="0.7" /><line x1="595.14" y1="77.93" x2="602.14" y2="77.93" stroke="#00ff00" stroke-width="0.7" /><polygon points="636.57,75.81 642.47,85.81 630.67,85.81" fill="none" stroke="#00ff00" stroke-width="1.0" stroke-linejoin="miter"/><line x1="636.57" y1="77.01" x2="636.57" y2="89.01" stroke="#00ff00" stroke-width="0.8" /><line x1="633.57" y1="81.01" x2="639.57" y2="81.01" stroke="#00ff00" stroke-width="0.7" /><line x1="633.07" y1="84.21" x2="640.07" y2="84.21" stroke="#00ff00" stroke-width="0.7" /><line x1="453.22" y1="167.14" x2="478.56" y2="168.02" stroke="#000000" stroke-width="2.0" stroke-linecap="butt"/><line x1="491.11" y1="167.51" x2="516.53" y2="164.55" stroke="#000000" stroke-width="2.0" stroke-linecap="butt"/><line x1="529.06" y1="164.41" x2="554.44" y2="166.77" stroke="#000000" stroke-width="2.0" stroke-linecap="butt"/><line x1="566.4" y1="164.64" x2="592.96" y2="151.95" stroke="#000000" stroke-width="2.0" stroke-linecap="butt"/><line x1="604.34" y1="151.92" x2="630.87" y2="164.45" stroke="#000000" stroke-width="2.0" stroke-linecap="butt"/><circle cx="446.93" cy="166.92" r="4.6" fill="none" stroke="#000000" stroke-width="1.1"/><line x1="446.93" y1="162.32" x2="446.93" y2="171.52" stroke="#000000" stroke-width="0.8" /><rect x="443.13" y="165.37" width="7.6" height="1.1" fill="#000000"/><rect x="443.13" y="167.37" width="7.6" height="1.1" fill="#000000"/><circle cx="484.86" cy="168.24" r="4.6" fill="none" stroke="#000000" stroke-width="1.1"/><line x1="484.86" y1="163.64" x2="484.86" y2="172.84" stroke="#000000" stroke-width="0.8" /><rect x="481.06" y="165.59" width="7.6" height="0.9" fill="#000000"/><rect x="481.06" y="169.99" width="7.6" height="0.9" fill="#000000"/><circle cx="522.79" cy="163.82" r="4.6" fill="none" stroke="#000000" stroke-width="1.1"/><line x1="522.79" y1="159.22" x2="522.79" y2="168.42" stroke="#000000" stroke-width="0.8" /><rect x="518.99" y="161.17" width="7.6" height="0.9" fill="#000000"/><rect x="518.99" y="165.57" width="7.6" height="0.9" fill="#000000"/><circle cx="560.71" cy="167.36" r="4.6" fill="none" stroke="#000000" stroke-width="1.1"/><line x1="560.71" y1="162.76" x2="560.71" y2="171.96" stroke="#000000" stroke-width="0.8" /><rect x="556.91" y="164.71" width="7.6" height="0.9" fill="#000000"/><rect x="556.91" y="169.11" width="7.6" height="0.9" fill="#000000"/><circle cx="598.64" cy="149.24" r="4.6" fill="none" stroke="#000000" stroke-width="1.1"/><line x1="598.64" y1="144.64" x2="598.64" y2="153.84" stroke="#000000" stroke-width="0.8" /><rect x="594.84" y="146.59" width="7.6" height="0.9" fill="#000000"/><rect x="594.84" y="150.99" width="7.6" height="0.9" fill="#000000"/><circle cx="636.57" cy="167.14" r="4.6" fill="none" stroke="#000000" stroke-width="1.1"/><circle cx="636.57" cy="167.14" r="0.6" fill="#000000"/><line x1="453.2" y1="166.87" x2="478.59" y2="169.39" stroke="#ff0000" stroke-width="2.0" stroke-linecap="butt"/><line x1="490.91" y1="171.77" x2="516.74" y2="179.3" stroke="#ff0000" stroke-width="2.0" stroke-linecap="butt"/><line x1="528.55" y1="178.51" x2="554.95" y2="166.81" stroke="#ff0000" stroke-width="2.0" stroke-linecap="butt"/><line x1="566.73" y1="162.4" x2="592.62" y2="154.41" stroke="#ff0000" stroke-width="2.0" stroke-linecap="butt"/><line x1="604.03" y1="155.81" x2="631.18" y2="172.27" stroke="#ff0000" stroke-width="2.0" stroke-linecap="butt"/><circle cx="446.93" cy="166.25" r="4.6" fill="none" stroke="#ff0000" stroke-width="1.1"/><line x1="446.93" y1="161.65" x2="446.93" y2="170.85" stroke="#ff0000" stroke-width="0.8" /><rect x="443.13" y="164.7" width="7.6" height="1.1" fill="#ff0000"/><rect x="443.13" y="166.7" width="7.6" height="1.1" fill="#ff0000"/><circle cx="484.86" cy="170.01" r="4.6" fill="none" stroke="#ff0000" stroke-width="1.1"/><line x1="484.86" y1="165.41" x2="484.86" y2="174.61" stroke="#ff0000" stroke-width="0.8" /><rect x="481.06" y="167.36" width="7.6" height="0.9" fill="#ff0000"/><rect x="481.06" y="171.76" width="7.6" height="0.9" fill="#ff0000"/><circle cx="522.79" cy="181.06" r="4.6" fill="none" stroke="#ff0000" stroke-width="1.1"/><circle cx="522.79" cy="181.06" r="0.6" fill="#ff0000"/><circle cx="560.71" cy="164.26" r="4.6" fill="none" stroke="#ff0000" stroke-width="1.1"/><line x1="560.71" y1="159.66" x2="560.71" y2="168.86" stroke="#ff0000" stroke-width="0.8" /><rect x="556.91" y="161.61" width="7.6" height="0.9" fill="#ff0000"/><rect x="556.91" y="166.01" width="7.6" height="0.9" fill="#ff0000"/><circle cx="598.64" cy="152.55" r="4.6" fill="none" stroke="#ff0000" stroke-width="1.1"/><line x1="598.64" y1="147.95" x2="598.64" y2="157.15" stroke="#ff0000" stroke-width="0.8" /><rect x="594.84" y="149.9" width="7.6" height="0.9" fill="#ff0000"/><rect x="594.84" y="154.3" width="7.6" height="0.9" fill="#ff0000"/><circle cx="636.57" cy="175.53" r="4.6" fill="none" stroke="#ff0000" stroke-width="1.1"/><circle cx="636.57" cy="175.53" r="0.6" fill="#ff0000"/><line x1="453.2" y1="194.8" x2="478.59" y2="192.29" stroke="#00ff00" stroke-width="2.0" stroke-linecap="butt"/><line x1="491.05" y1="192.82" x2="516.59" y2="197.58" stroke="#00ff00" stroke-width="2.0" stroke-linecap="butt"/><line x1="528.99" y1="197.65" x2="554.51" y2="193.19" stroke="#00ff00" stroke-width="2.0" stroke-linecap="butt"/><line x1="566.97" y1="191.38" x2="592.39" y2="188.42" stroke="#00ff00" stroke-width="2.0" stroke-linecap="butt"/><line x1="604.76" y1="189.19" x2="630.45" y2="195.47" stroke="#00ff00" stroke-width="2.0" stroke-linecap="butt"/><circle cx="446.93" cy="195.42" r="4.6" fill="none" stroke="#00ff00" stroke-width="1.1"/><line x1="446.93" y1="190.82" x2="446.93" y2="200.02" stroke="#00ff00" stroke-width="0.8" /><rect x="443.13" y="194.17" width="7.6" height="0.9" fill="#00ff00"/><rect x="443.13" y="195.77" width="7.6" height="0.9" fill="#00ff00"/><circle cx="484.86" cy="191.67" r="4.6" fill="none" stroke="#00ff00" stroke-width="1.1"/><line x1="484.86" y1="187.07" x2="484.86" y2="196.27" stroke="#00ff00" stroke-width="0.8" /><rect x="481.06" y="189.72" width="7.6" height="0.9" fill="#00ff00"/><rect x="481.06" y="192.72" width="7.6" height="0.9" fill="#00ff00"/><circle cx="522.79" cy="198.74" r="4.6" fill="none" stroke="#00ff00" stroke-width="1.1"/><line x1="522.79" y1="194.14" x2="522.79" y2="203.34" stroke="#00ff00" stroke-width="0.8" /><rect x="518.99" y="196.29" width="7.6" height="0.9" fill="#00ff00"/><rect x="518.99" y="200.29" width="7.6" height="0.9" fill="#00ff00"/><circle cx="560.71" cy="192.11" r="4.6" fill="none" stroke="#00ff00" stroke-width="1.1"/><line x1="560.71" y1="187.51" x2="560.71" y2="196.71" stroke="#00ff00" stroke-width="0.8" /><rect x="556.91" y="190.16" width="7.6" height="0.9" fill="#00ff00"/><rect x="556.91" y="193.16" width="7.6" height="0.9" fill="#00ff00"/><circle cx="598.64" cy="187.69" r="4.6" fill="none" stroke="#00ff00" stroke-width="1.1"/><line x1="598.64" y1="183.09" x2="598.64" y2="192.29" stroke="#00ff00" stroke-width="0.8" /><rect x="594.84" y="185.74" width="7.6" height="0.9" fill="#00ff00"/><rect x="594.84" y="188.74" width="7.6" height="0.9" fill="#00ff00"/><circle cx="636.57" cy="196.97" r="4.6" fill="none" stroke="#00ff00" stroke-width="1.1"/><line x1="636.57" y1="192.37" x2="636.57" y2="201.57" stroke="#00ff00" stroke-width="0.8" /><rect x="632.77" y="195.02" width="7.6" height="0.9" fill="#00ff00"/><rect x="632.77" y="198.02" width="7.6" height="0.9" fill="#00ff00"/><line x1="451.18" y1="334.96" x2="480.6" y2="305.67" stroke="#000000" stroke-width="2.0" stroke-linecap="butt"/><line x1="490.83" y1="301.96" x2="516.81" y2="304.23" stroke="#000000" stroke-width="2.0" stroke-linecap="butt"/><line x1="528.24" y1="302.24" x2="555.26" y2="289.81" stroke="#000000" stroke-width="2.0" stroke-linecap="butt"/><line x1="566.25" y1="289.63" x2="593.11" y2="300.89" stroke="#000000" stroke-width="2.0" stroke-linecap="butt"/><line x1="603.57" y1="299.79" x2="631.64" y2="280.35" stroke="#000000" stroke-width="2.0" stroke-linecap="butt"/><rect x="442.43" y="334.7" width="9" height="9" fill="#000000"/><rect x="480.36" y="296.94" width="9" height="9" fill="#000000"/><rect x="518.29" y="300.25" width="9" height="9" fill="#000000"/><rect x="556.21" y="282.81" width="9" height="9" fill="#000000"/><rect x="594.14" y="298.71" width="9" height="9" fill="#000000"/><rect x="632.07" y="272.43" width="9" height="9" fill="#000000"/><line x1="451.41" y1="335.21" x2="480.38" y2="309.4" stroke="#ff0000" stroke-width="2.0" stroke-linecap="butt"/><line x1="490.17" y1="302.63" x2="517.47" y2="288.33" stroke="#ff0000" stroke-width="2.0" stroke-linecap="butt"/><line x1="528.56" y1="287.16" x2="554.94" y2="294.53" stroke="#ff0000" stroke-width="2.0" stroke-linecap="butt"/><line x1="566.6" y1="297.3" x2="592.76" y2="302.48" stroke="#ff0000" stroke-width="2.0" stroke-linecap="butt"/><line x1="603.37" y1="299.96" x2="631.84" y2="277.75" stroke="#ff0000" stroke-width="2.0" stroke-linecap="butt"/><rect x="442.43" y="334.7" width="9" height="9" fill="#ff0000"/><rect x="480.36" y="300.91" width="9" height="9" fill="#ff0000"/><rect x="518.29" y="281.04" width="9" height="9" fill="#ff0000"/><rect x="556.21" y="291.64" width="9" height="9" fill="#ff0000"/><rect x="594.14" y="299.15" width="9" height="9" fill="#ff0000"/><rect x="632.07" y="269.56" width="9" height="9" fill="#ff0000"/><line x1="451.45" y1="335.25" x2="480.34" y2="310.02" stroke="#00ff00" stroke-width="2.0" stroke-linecap="butt"/><line x1="490.3" y1="303.54" x2="517.35" y2="290.95" stroke="#00ff00" stroke-width="2.0" stroke-linecap="butt"/><line x1="528.71" y1="287.48" x2="554.79" y2="283.38" stroke="#00ff00" stroke-width="2.0" stroke-linecap="butt"/><line x1="566.71" y1="282.76" x2="592.65" y2="284.12" stroke="#00ff00" stroke-width="2.0" stroke-linecap="butt"/><line x1="604.11" y1="281.96" x2="631.11" y2="269.7" stroke="#00ff00" stroke-width="2.0" stroke-linecap="butt"/><rect x="442.43" y="334.7" width="9" height="9" fill="#00ff00"/><rect x="480.36" y="301.58" width="9" height="9" fill="#00ff00"/><rect x="518.29" y="283.91" width="9" height="9" fill="#00ff00"/><rect x="556.21" y="277.95" width="9" height="9" fill="#00ff00"/><rect x="594.14" y="279.94" width="9" height="9" fill="#00ff00"/><rect x="632.07" y="262.72" width="9" height="9" fill="#00ff00"/><g fill="#ff0000" fill-opacity="0.6"><rect x="481.16" y="302.66" width="7.4" height="1"/><rect x="481.16" y="307.16" width="7.4" height="1"/></g><g fill="#000000" fill-opacity="0.6"><rect x="481.16" y="296.94" width="7.4" height="1"/><rect x="481.16" y="304.94" width="7.4" height="1"/></g></g><rect x="409" y="9" width="265.5" height="331.3" fill="none" stroke="#000" stroke-width="1.8"/><line x1="409" y1="119.4" x2="674.5" y2="119.4" stroke="#000" stroke-width="1.7" /><line x1="409" y1="229.9" x2="674.5" y2="229.9" stroke="#000" stroke-width="1.7" /><line x1="242.5" y1="76.7" x2="249.6" y2="76.7" stroke="#000000" stroke-width="1.7" /><line x1="260.8" y1="76.7" x2="267.7" y2="76.7" stroke="#000000" stroke-width="1.7" /><polygon points="255.2,71.5 261.1,80.6 249.3,80.6" fill="none" stroke="#000000" stroke-width="1.0"/><line x1="83" y1="150" x2="90.2" y2="150" stroke="#000000" stroke-width="1.7" /><line x1="100.6" y1="150" x2="108.3" y2="150" stroke="#000000" stroke-width="1.7" /><circle cx="95.4" cy="150" r="4.7" fill="none" stroke="#000000" stroke-width="1.2"/><line x1="79.4" y1="263" x2="85.9" y2="263" stroke="#000000" stroke-width="1.7" /><line x1="97.7" y1="263" x2="104.2" y2="263" stroke="#000000" stroke-width="1.7" /><rect x="87.4" y="258.6" width="8.8" height="8.8" fill="#000000"/><line x1="591.4" y1="21" x2="598.9" y2="21" stroke="#000000" stroke-width="1.7" /><line x1="610.1" y1="21" x2="617.2" y2="21" stroke="#000000" stroke-width="1.7" /><polygon points="604.5,15.8 610.4,24.9 598.6,24.9" fill="none" stroke="#000000" stroke-width="1.0"/><line x1="242.5" y1="95" x2="249.6" y2="95" stroke="#ff0000" stroke-width="1.7" /><line x1="260.8" y1="95" x2="267.7" y2="95" stroke="#ff0000" stroke-width="1.7" /><polygon points="255.2,89.8 261.1,98.9 249.3,98.9" fill="none" stroke="#ff0000" stroke-width="1.0"/><line x1="83" y1="168.5" x2="90.2" y2="168.5" stroke="#ff0000" stroke-width="1.7" /><line x1="100.6" y1="168.5" x2="108.3" y2="168.5" stroke="#ff0000" stroke-width="1.7" /><circle cx="95.4" cy="168.5" r="4.7" fill="none" stroke="#ff0000" stroke-width="1.2"/><line x1="79.4" y1="281.6" x2="85.9" y2="281.6" stroke="#ff0000" stroke-width="1.7" /><line x1="97.7" y1="281.6" x2="104.2" y2="281.6" stroke="#ff0000" stroke-width="1.7" /><rect x="87.4" y="277.2" width="8.8" height="8.8" fill="#ff0000"/><line x1="591.4" y1="40.2" x2="598.9" y2="40.2" stroke="#ff0000" stroke-width="1.7" /><line x1="610.1" y1="40.2" x2="617.2" y2="40.2" stroke="#ff0000" stroke-width="1.7" /><polygon points="604.5,35 610.4,44.1 598.6,44.1" fill="none" stroke="#ff0000" stroke-width="1.0"/><line x1="242.5" y1="113.3" x2="249.6" y2="113.3" stroke="#00ff00" stroke-width="1.7" /><line x1="260.8" y1="113.3" x2="267.7" y2="113.3" stroke="#00ff00" stroke-width="1.7" /><polygon points="255.2,108.1 261.1,117.2 249.3,117.2" fill="none" stroke="#00ff00" stroke-width="1.0"/><line x1="83" y1="187" x2="90.2" y2="187" stroke="#00ff00" stroke-width="1.7" /><line x1="100.6" y1="187" x2="108.3" y2="187" stroke="#00ff00" stroke-width="1.7" /><circle cx="95.4" cy="187" r="4.7" fill="none" stroke="#00ff00" stroke-width="1.2"/><line x1="79.4" y1="300.2" x2="85.9" y2="300.2" stroke="#00ff00" stroke-width="1.7" /><line x1="97.7" y1="300.2" x2="104.2" y2="300.2" stroke="#00ff00" stroke-width="1.7" /><rect x="87.4" y="295.8" width="8.8" height="8.8" fill="#00ff00"/><line x1="591.4" y1="59.4" x2="598.9" y2="59.4" stroke="#00ff00" stroke-width="1.7" /><line x1="610.1" y1="59.4" x2="617.2" y2="59.4" stroke="#00ff00" stroke-width="1.7" /><polygon points="604.5,54.2 610.4,63.3 598.6,63.3" fill="none" stroke="#00ff00" stroke-width="1.0"/><line x1="417.8" y1="134.7" x2="425.2" y2="134.7" stroke="#000000" stroke-width="1.7" /><line x1="435.6" y1="134.7" x2="442.7" y2="134.7" stroke="#000000" stroke-width="1.7" /><circle cx="430.4" cy="134.7" r="4.7" fill="none" stroke="#000000" stroke-width="1.2"/><circle cx="430.4" cy="134.7" r="0.6" fill="#000000"/><line x1="495.5" y1="134.7" x2="503" y2="134.7" stroke="#ff0000" stroke-width="1.7" /><line x1="513.4" y1="134.7" x2="521" y2="134.7" stroke="#ff0000" stroke-width="1.7" /><circle cx="508.2" cy="134.7" r="4.7" fill="none" stroke="#ff0000" stroke-width="1.2"/><circle cx="508.2" cy="134.7" r="0.6" fill="#ff0000"/><line x1="573.6" y1="134.7" x2="581.3" y2="134.7" stroke="#00ff00" stroke-width="1.7" /><line x1="591.7" y1="134.7" x2="599.2" y2="134.7" stroke="#00ff00" stroke-width="1.7" /><circle cx="586.5" cy="134.7" r="4.7" fill="none" stroke="#00ff00" stroke-width="1.2"/><circle cx="586.5" cy="134.7" r="0.6" fill="#00ff00"/><line x1="419.2" y1="244.7" x2="426.2" y2="244.7" stroke="#000000" stroke-width="1.7" /><line x1="438" y1="244.7" x2="444.8" y2="244.7" stroke="#000000" stroke-width="1.7" /><rect x="427.7" y="240.3" width="8.8" height="8.8" fill="#000000"/><line x1="497.5" y1="244.7" x2="504.3" y2="244.7" stroke="#ff0000" stroke-width="1.7" /><line x1="516.1" y1="244.7" x2="522.5" y2="244.7" stroke="#ff0000" stroke-width="1.7" /><rect x="505.8" y="240.3" width="8.8" height="8.8" fill="#ff0000"/><line x1="575.3" y1="244.7" x2="582.1" y2="244.7" stroke="#00ff00" stroke-width="1.7" /><line x1="593.9" y1="244.7" x2="600.6" y2="244.7" stroke="#00ff00" stroke-width="1.7" /><rect x="583.6" y="240.3" width="8.8" height="8.8" fill="#00ff00"/></svg><div style="position:absolute;left:0;top:0;width:685px;height:395px;filter:grayscale(1)"><svg width="685" height="395" viewBox="0 0 685 395" style="display:block;font-family:"Liberation Sans", sans-serif;fill:#000"><text x="335.3" y="172.9" font-size="11.7" text-anchor="end" class="s">Nb vacancy</text><text x="336.8" y="259.3" font-size="11.75" text-anchor="end" class="s">fully decorated Nb vacancy</text><text x="68" y="345.85" font-size="18.7" text-anchor="end" >0.00</text><text x="68" y="309.02" font-size="18.7" text-anchor="end" >0.05</text><text x="68" y="272.19" font-size="18.7" text-anchor="end" >0.10</text><text x="68" y="235.37" font-size="18.7" text-anchor="end" >0.15</text><text x="68" y="198.54" font-size="18.7" text-anchor="end" >0.20</text><text x="68" y="161.71" font-size="18.7" text-anchor="end" >0.25</text><text x="68" y="124.88" font-size="18.7" text-anchor="end" >0.30</text><text x="68" y="88.06" font-size="18.7" text-anchor="end" >0.35</text><text x="68" y="51.23" font-size="18.7" text-anchor="end" >0.40</text><text x="68" y="14.4" font-size="18.7" text-anchor="end" >0.45</text><text x="401.2" y="116.81" font-size="18.7" text-anchor="end" >20</text><text x="401.2" y="82.84" font-size="18.7" text-anchor="end" >40</text><text x="401.2" y="48.87" font-size="18.7" text-anchor="end" >60</text><text x="401.2" y="14.9" font-size="18.7" text-anchor="end" >80</text><text x="401.2" y="224.75" font-size="18.7" text-anchor="end" >20</text><text x="401.2" y="180.55" font-size="18.7" text-anchor="end" >40</text><text x="401.2" y="136.35" font-size="18.7" text-anchor="end" >60</text><text x="401.2" y="346.2" font-size="18.7" text-anchor="end" >0</text><text x="401.2" y="302.04" font-size="18.7" text-anchor="end" >20</text><text x="401.2" y="257.88" font-size="18.7" text-anchor="end" >40</text><text x="75.25" y="361.5" font-size="18.5" text-anchor="middle" >0</text><text x="113.13" y="361.5" font-size="18.5" text-anchor="middle" >1</text><text x="151.01" y="361.5" font-size="18.5" text-anchor="middle" >2</text><text x="188.89" y="361.5" font-size="18.5" text-anchor="middle" >3</text><text x="226.76" y="361.5" font-size="18.5" text-anchor="middle" >4</text><text x="264.64" y="361.5" font-size="18.5" text-anchor="middle" >5</text><text x="302.52" y="361.5" font-size="18.5" text-anchor="middle" >6</text><svg x="0" y="0" width="342" height="395" overflow="hidden"><text x="340.4" y="361.5" font-size="18.5" text-anchor="middle" >7</text></svg><text x="409" y="361.5" font-size="18.5" text-anchor="middle" >0</text><text x="446.93" y="361.5" font-size="18.5" text-anchor="middle" >1</text><text x="484.86" y="361.5" font-size="18.5" text-anchor="middle" >2</text><text x="522.79" y="361.5" font-size="18.5" text-anchor="middle" >3</text><text x="560.71" y="361.5" font-size="18.5" text-anchor="middle" >4</text><text x="598.64" y="361.5" font-size="18.5" text-anchor="middle" >5</text><text x="636.57" y="361.5" font-size="18.5" text-anchor="middle" >6</text><text x="674.5" y="361.5" font-size="18.5" text-anchor="middle" >7</text><svg x="0" y="0" width="342" height="395" overflow="hidden"><text x="64.5" y="385" font-size="20.3" letter-spacing="0.1">e<tspan font-size="10.5" dy="-9.5">+</tspan><tspan dy="9.5"> implantation energy, E</tspan><tspan font-size="13" dy="7">p</tspan><tspan dy="-7"> (keV)</tspan></text></svg><text x="397.6" y="385" font-size="20.3" letter-spacing="0.1">e<tspan font-size="10.5" dy="-9.5">+</tspan><tspan dy="9.5"> implantation energy, E</tspan><tspan font-size="13" dy="7">p</tspan><tspan dy="-7"> (keV)</tspan></text><text transform="translate(18.5,281.3) rotate(-90)" font-size="20.4">positron lifetimes, τ<tspan font-size="12" dy="6">i</tspan><tspan dy="-6"> (ns)</tspan></text><text transform="translate(365.5,284.8) rotate(-90)" font-size="20.45">relative intensity, I<tspan font-size="12" dy="4">i</tspan><tspan dy="-4"> (%)</tspan></text><text x="-0.1" y="18" font-size="18" text-anchor="start" >(a)</text><text x="346.8" y="21" font-size="18" text-anchor="start" >(b)</text><text class="s" x="270.2" y="80.6" font-size="10.8">τ<tspan font-size="7.3" dy="3.8">3</tspan><tspan dy="-3.8">: 30 °C</tspan></text><text class="s" x="110.8" y="153.9" font-size="10.8">τ<tspan font-size="7.3" dy="3.8">2</tspan><tspan dy="-3.8">: 30 °C</tspan></text><text class="s" x="107.3" y="266.9" font-size="10.8">τ<tspan font-size="7.3" dy="3.8">1</tspan><tspan dy="-3.8">: 30 °C</tspan></text><text class="s" x="619.8" y="24.9" font-size="10.8">I<tspan font-size="7.3" dy="3.8">3</tspan><tspan dy="-3.8">: 30 °C</tspan></text><text class="s" x="270.2" y="98.9" font-size="10.8">τ<tspan font-size="7.3" dy="3.8">3</tspan><tspan dy="-3.8">: 70 °C</tspan></text><text class="s" x="110.8" y="172.4" font-size="10.8">τ<tspan font-size="7.3" dy="3.8">2</tspan><tspan dy="-3.8">: 70 °C</tspan></text><text class="s" x="107.3" y="285.5" font-size="10.8">τ<tspan font-size="7.3" dy="3.8">1</tspan><tspan dy="-3.8">: 70 °C</tspan></text><text class="s" x="619.8" y="44.1" font-size="10.8">I<tspan font-size="7.3" dy="3.8">3</tspan><tspan dy="-3.8">: 70 °C</tspan></text><text class="s" x="270.2" y="117.2" font-size="10.8">τ<tspan font-size="7.3" dy="3.8">3</tspan><tspan dy="-3.8">: 120 °C</tspan></text><text class="s" x="110.8" y="190.9" font-size="10.8">τ<tspan font-size="7.3" dy="3.8">2</tspan><tspan dy="-3.8">: 120 °C</tspan></text><text class="s" x="107.3" y="304.1" font-size="10.8">τ<tspan font-size="7.3" dy="3.8">1</tspan><tspan dy="-3.8">: 120 °C</tspan></text><text class="s" x="619.8" y="63.3" font-size="10.8">I<tspan font-size="7.3" dy="3.8">3</tspan><tspan dy="-3.8">: 120 °C</tspan></text><text class="s" x="446" y="138.6" font-size="10.8">I<tspan font-size="7.3" dy="3.8">2</tspan><tspan dy="-3.8">: 30 °C</tspan></text><text class="s" x="523.5" y="138.6" font-size="10.8">I<tspan font-size="7.3" dy="3.8">2</tspan><tspan dy="-3.8">: 70 °C</tspan></text><text class="s" x="602" y="138.6" font-size="10.8">I<tspan font-size="7.3" dy="3.8">2</tspan><tspan dy="-3.8">: 120 °C</tspan></text><text class="s" x="447" y="248.6" font-size="10.8">I<tspan font-size="7.3" dy="3.8">1</tspan><tspan dy="-3.8">: 30 °C</tspan></text><text class="s" x="525" y="248.6" font-size="10.8">I<tspan font-size="7.3" dy="3.8">1</tspan><tspan dy="-3.8">: 70 °C</tspan></text><text class="s" x="603.8" y="248.6" font-size="10.8">I<tspan font-size="7.3" dy="3.8">1</tspan><tspan dy="-3.8">: 120 °C</tspan></text></svg></div></body></html>
